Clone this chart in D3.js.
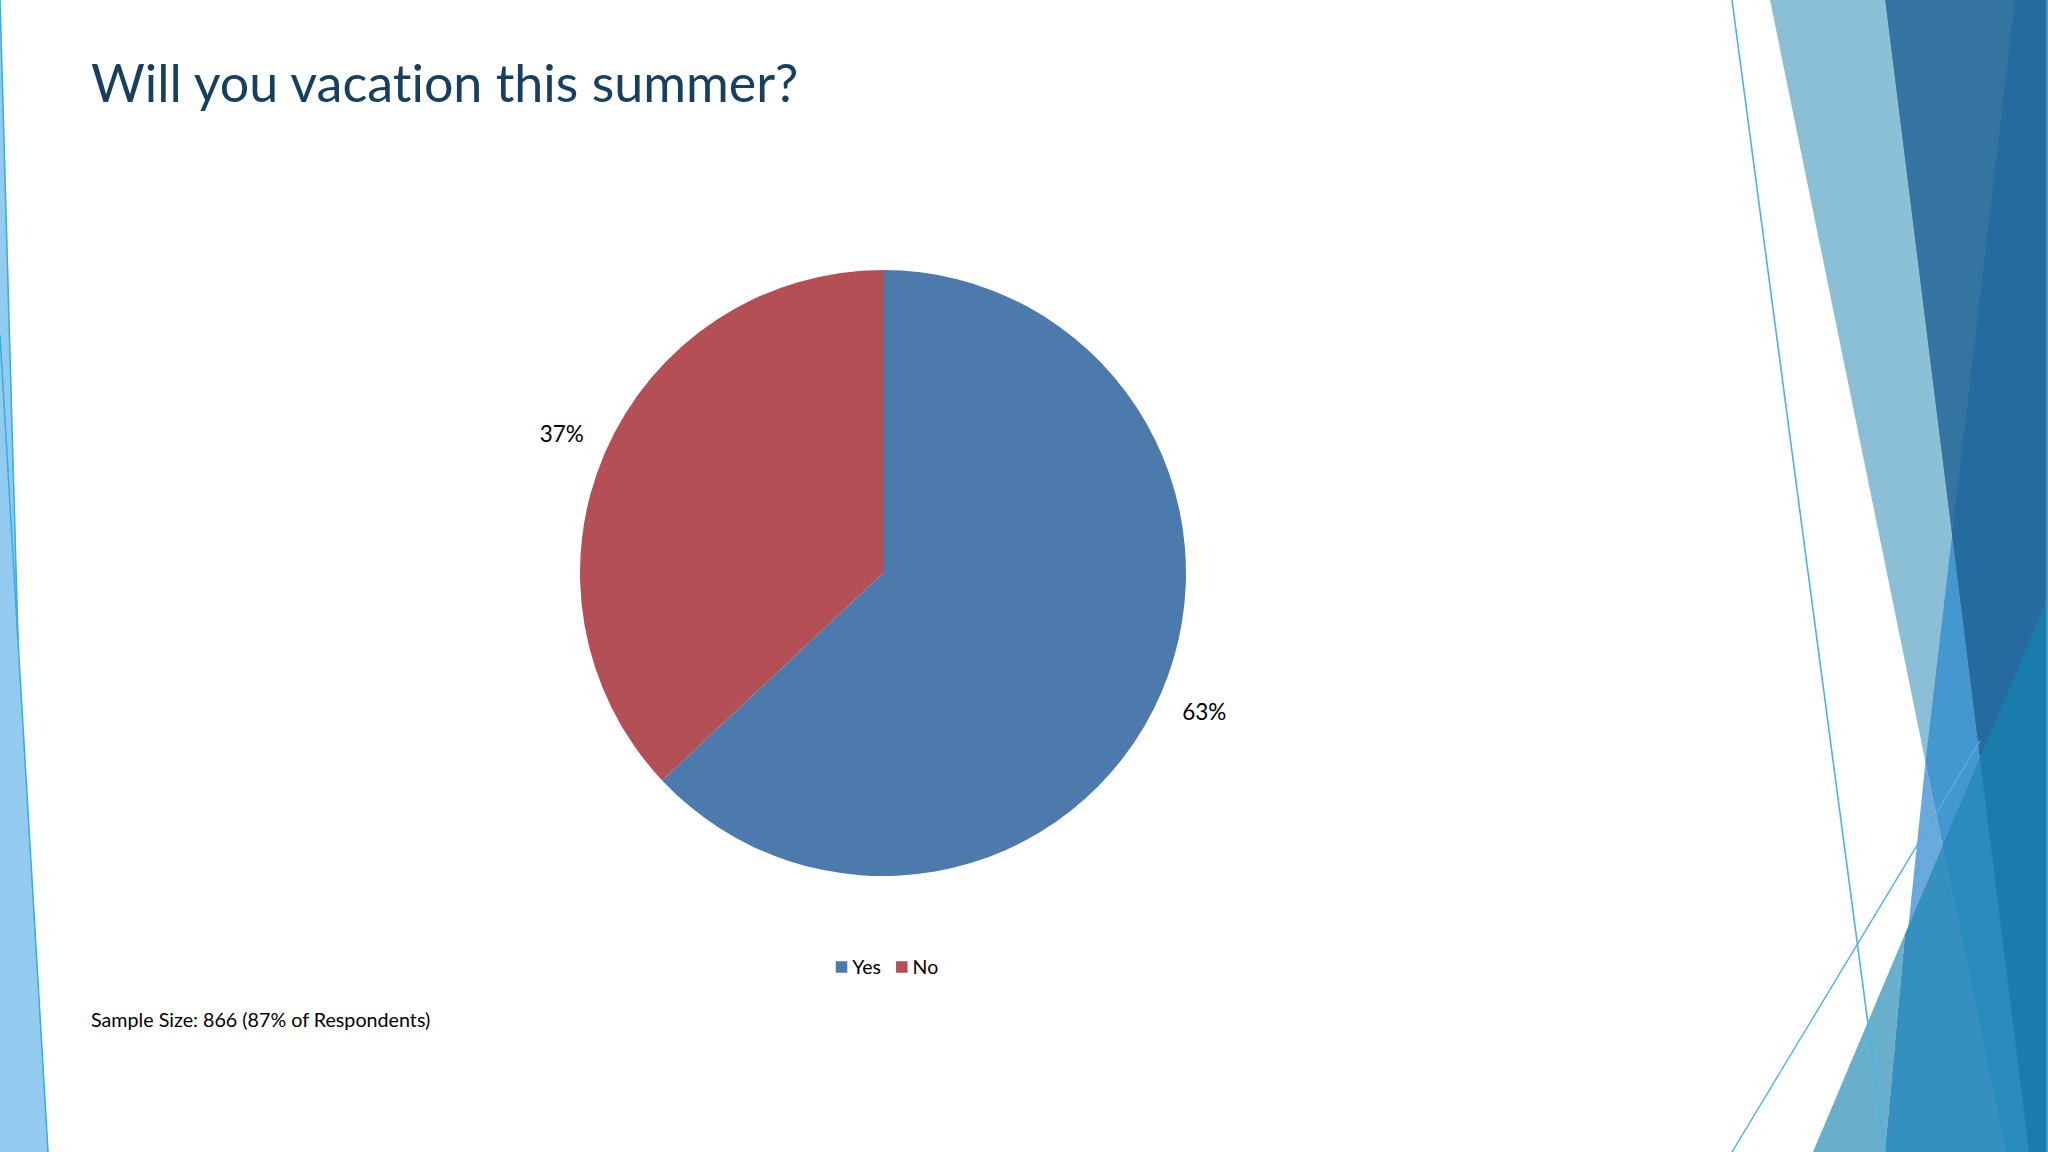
<!DOCTYPE html>
<html>
<head>
	<meta charset='utf-8'>
	<script src="https://cdnjs.cloudflare.com/ajax/libs/d3/7.8.5/d3.min.js" charset="utf-8"></script>
	<style>
	body {
		margin:0;
		background:#fff;
		overflow:hidden;
	}
	text {
		font-variant-ligatures:none;
	}
	</style>
</head>
<body>
	<script>

	// chart data
	var categories = ['Yes', 'No'],
		shares = [63, 37];
	var titleText = 'Will you vacation this summer?',
		noteText = 'Sample Size: 866 (87% of Respondents)';

	var width = 2048,
		height = 1152;

	var svg = d3.select('body').append('svg')
		.attr('width', width).attr('height', height);

	// ---- theme decoration (left edge) ----
	var deco = svg.append('g').attr('class', 'deco');
	deco.append('polygon').attr('points', '0,0 18,640 48,1152 0,1152').attr('fill', '#93cbf0');
	deco.append('line').attr('x1', 0).attr('y1', 0).attr('x2', 18).attr('y2', 640)
		.attr('stroke', '#3aaee2').attr('stroke-width', 1.6);
	deco.append('line').attr('x1', 0).attr('y1', 335).attr('x2', 48).attr('y2', 1152)
		.attr('stroke', '#3aaee2').attr('stroke-width', 1.6);

	// ---- theme decoration (right side) ----
	var facets = [
		{ pts: '1770,0 1885,0 2029,1152 2005,1152', fill: '#8bbfd5' },
		{ pts: '1885,0 2048,0 2048,1152 2029,1152', fill: '#3574a1' },
		{ pts: '2015,0 2048,0 2048,1152 2029,1152 1952,536', fill: '#266ba0' },
		{ pts: '1952,536 2029,1152 2005,1152 1925.5,762', fill: '#4597cf' },
		{ pts: '1925.5,762 1885,1152 2005,1152', fill: '#6aa9db' },
		{ pts: '1813,1152 1885,1152 1905,934', fill: '#67afcb' },
		{ pts: '1905,934 1885,1152 2005,1152 1942.6,846', fill: '#3590c0' },
		{ pts: '1942.6,846 2005,1152 2029,1152 1979.8,758', fill: '#2a8bbf' },
		{ pts: '1979.8,758 2048,597 2048,1152 2029,1152', fill: '#1a7cad' }
	];
	deco.selectAll('polygon.facet').data(facets).enter().append('polygon')
		.attr('class', 'facet')
		.attr('points', function (d) { return d.pts; })
		.attr('fill', function (d) { return d.fill; });
	deco.append('line').attr('x1', 1732).attr('y1', 0).attr('x2', 1885).attr('y2', 1152)
		.attr('stroke', '#4db3e2').attr('stroke-width', 1.6);
	deco.append('line').attr('x1', 1732).attr('y1', 1152).attr('x2', 1980).attr('y2', 741)
		.attr('stroke', '#4db3e2').attr('stroke-width', 1.4);
	deco.append('line').attr('x1', 2047).attr('y1', 0).attr('x2', 2047).attr('y2', 1152)
		.attr('stroke', '#5fb4e4').attr('stroke-width', 1.2);

	// ---- title ----
	svg.append('text')
		.attr('x', 91).attr('y', 102)
		.attr('font-family', 'Lato, sans-serif')
		.attr('font-size', 52)
		.attr('fill', '#17405f')
		.text(titleText);

	// ---- pie ----
	var cx = 883, cy = 573, radius = 303;

	var color = d3.scaleOrdinal().domain(categories).range(['#4d7aad', '#b34f55']);

	var data = categories.map(function (c, i) { return { name: c, value: shares[i] }; });

	var pie = d3.pie().sort(null).value(function (d) { return d.value; });
	var arc = d3.arc().innerRadius(0).outerRadius(radius);
	var labelArc = d3.arc().innerRadius(350).outerRadius(350);

	var chart = svg.append('g').attr('transform', 'translate(' + cx + ',' + cy + ')');

	chart.selectAll('path').data(pie(data)).enter().append('path')
		.attr('d', arc)
		.attr('fill', function (d) { return color(d.data.name); });

	chart.selectAll('text.label').data(pie(data)).enter().append('text')
		.attr('class', 'label')
		.attr('transform', function (d) { return 'translate(' + labelArc.centroid(d) + ')'; })
		.attr('text-anchor', 'middle')
		.attr('dy', '0.36em')
		.attr('font-family', 'Lato, sans-serif')
		.attr('font-size', 22.5)
		.attr('fill', '#000')
		.text(function (d) { return d.data.value + '%'; });

	// ---- legend ----
	var legend = svg.append('g').attr('class', 'legend');
	var box = 11.5, gap = 5, itemGap = 15, legendY = 967;
	var items = legend.selectAll('g').data(categories).enter().append('g');
	items.append('rect')
		.attr('width', box).attr('height', box)
		.attr('y', legendY - box / 2)
		.attr('fill', function (d) { return color(d); });
	items.append('text')
		.attr('x', box + gap).attr('y', legendY)
		.attr('dy', '0.35em')
		.attr('font-family', 'Lato, sans-serif')
		.attr('font-size', 19.5)
		.attr('fill', '#000')
		.text(function (d) { return d; });

	var offset = 0, widths = [];
	items.each(function () { widths.push(this.getBBox().width); });
	var total = d3.sum(widths) + itemGap * (widths.length - 1);
	var startX = 887 - total / 2;
	items.attr('transform', function (d, i) {
		var x = startX + offset;
		offset += widths[i] + itemGap;
		return 'translate(' + x + ',0)';
	});

	// ---- note ----
	svg.append('text')
		.attr('x', 91).attr('y', 1027)
		.attr('font-family', 'Lato, sans-serif')
		.attr('font-size', 19.7)
		.attr('fill', '#000')
		.text(noteText);

	</script>
</body>
</html>
